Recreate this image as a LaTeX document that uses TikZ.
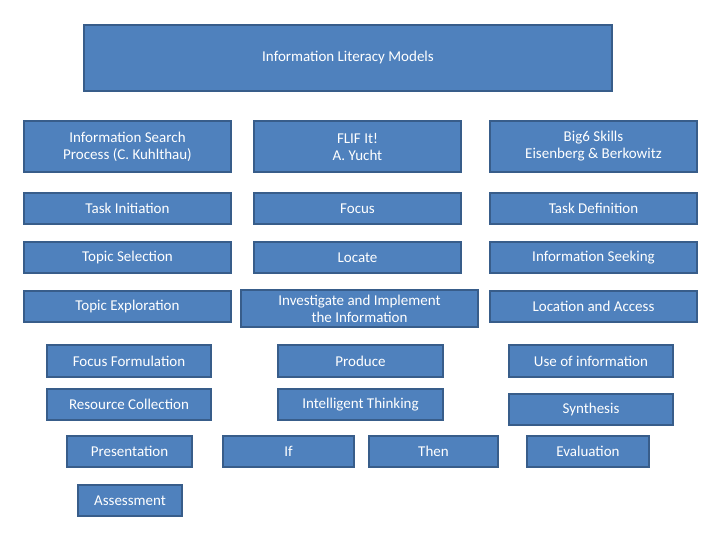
\documentclass[tikz,border=0pt]{standalone}
\usepackage{fontspec}
\setmainfont{Carlito}
\definecolor{boxfill}{HTML}{4F81BD}
\definecolor{boxline}{HTML}{385D8A}
\tikzset{bx/.style={draw=boxline,fill=boxfill,line width=1.2pt,text=white,font=\fontsize{15}{17}\selectfont,align=center}}
\newcommand{\bxx}[6]{\draw[bx] (#2,#3) rectangle (#4,#5) node[midway,text=white,font=\fontsize{15}{17}\selectfont,align=center] (#1) {#6};}
\begin{document}
\begin{tikzpicture}[x=1pt,y=-1pt]
\useasboundingbox[fill=white] (0,0) rectangle (728,546);
\bxx{t}{84}{25}{612}{91}{Information Literacy Models}
\bxx{a1}{24}{121}{231}{172}{Information Search\\Process (C. Kuhlthau)}
\bxx{b1}{254}{121}{461}{172}{FLIF It!\\A. Yucht}
\bxx{c1}{490}{121}{697}{172}{Big6 Skills\\Eisenberg \& Berkowitz}
\bxx{a2}{24}{193}{231}{224}{Task Initiation}
\bxx{b2}{254}{193}{461}{224}{Focus}
\bxx{c2}{490}{193}{697}{224}{Task Definition}
\bxx{a3}{24}{242}{231}{273}{Topic Selection}
\bxx{b3}{254}{242}{461}{273}{Locate}
\bxx{c3}{490}{242}{697}{273}{Information Seeking}
\bxx{a4}{24}{291}{231}{322}{Topic Exploration}
\bxx{b4}{241}{290}{478}{327}{Investigate and Implement\\the Information}
\bxx{c4}{490}{291}{697}{322}{Location and Access}
\bxx{a5}{47}{345}{211}{377}{Focus Formulation}
\bxx{b5}{278}{345}{443}{377}{Produce}
\bxx{c5}{509}{345}{673}{377}{Use of information}
\bxx{a6}{47}{389}{211}{420}{Resource Collection}
\bxx{b6}{278}{389}{443}{420}{Intelligent Thinking}
\bxx{c6}{509}{394}{673}{425}{Synthesis}
\bxx{a7}{67}{436}{192}{467}{Presentation}
\bxx{b7}{223}{436}{354}{467}{If}
\bxx{b8}{369}{436}{498}{467}{Then}
\bxx{c7}{527}{436}{649}{467}{Evaluation}
\bxx{a8}{78}{485}{182}{516}{Assessment}
\end{tikzpicture}
\end{document}
